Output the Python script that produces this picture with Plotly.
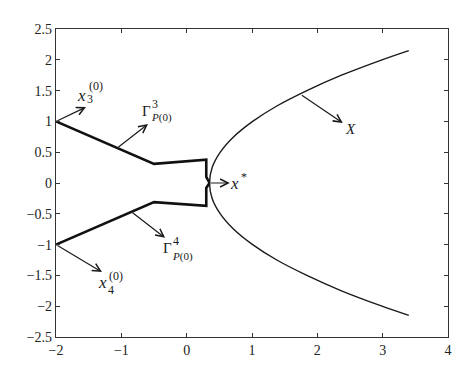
import plotly.graph_objects as go

# Polyline paths
upper_x = [-2.0, -0.5, 0.30, 0.30, 0.35]
upper_y = [1.0, 0.31, 0.38, 0.10, 0.0]
lower_x = [-2.0, -0.5, 0.30, 0.30, 0.35]
lower_y = [-1.0, -0.31, -0.37, -0.08, 0.0]

# Curve X
curve_y = [-2.15, -2.0, -1.75, -1.5, -1.25, -1.0, -0.75, -0.5, -0.25, 0.0,
           0.25, 0.5, 0.75, 1.0, 1.25, 1.5, 1.75, 2.0, 2.15]
curve_x = [3.40, 2.99, 2.37, 1.84, 1.38, 1.01, 0.72, 0.515, 0.39, 0.35,
           0.39, 0.515, 0.72, 1.01, 1.38, 1.84, 2.37, 2.99, 3.40]

x_ticks = [-2, -1, 0, 1, 2, 3, 4]
x_ticktext = ["\u22122", "\u22121", "0", "1", "2", "3", "4"]
y_ticks = [-2.5, -2, -1.5, -1, -0.5, 0, 0.5, 1, 1.5, 2, 2.5]
y_ticktext = ["\u22122.5", "\u22122", "\u22121.5", "\u22121", "\u22120.5", "0",
              "0.5", "1", "1.5", "2", "2.5"]

# Arrows: (start_x, start_y, end_x, end_y)
arrows = [
    (-2.0, 1.0, -1.54, 1.234),      # x3(0)
    (-1.066, 0.565, -0.592, 0.958),  # Gamma3
    (0.35, 0.0, 0.66, 0.0),         # x*
    (1.74, 1.44, 2.39, 0.974),      # X
    (-0.85, -0.463, -0.33, -0.89),  # Gamma4
    (-2.0, -1.0, -1.296, -1.445),   # x4(0)
]

# Text pieces: (x, y, text, size, xanchor)
labels = [
    (-1.61, 1.42, "<i>x</i>", 17, "center"),
    (-1.525, 1.575, "(0)", 12, "left"),
    (-1.556, 1.36, "3", 12, "left"),
    (-0.614, 1.17, "\u0393", 15, "center"),
    (-0.56, 1.28, "3", 12, "left"),
    (-0.576, 1.06, "<i>P</i>(0)", 11, "left"),
    (0.726, 0.0, "<i>x</i>", 17, "center"),
    (0.80, 0.10, "*", 12, "left"),
    (2.51, 0.87, "<i>X</i>", 15, "center"),
    (-0.30, -1.06, "\u0393", 15, "center"),
    (-0.235, -0.94, "4", 12, "left"),
    (-0.255, -1.185, "<i>P</i>(0)", 11, "left"),
    (-1.288, -1.615, "<i>x</i>", 17, "center"),
    (-1.22, -1.51, "(0)", 12, "left"),
    (-1.23, -1.73, "4", 12, "left"),
]

fig = go.Figure()
fig.add_trace(go.Scatter(x=curve_x, y=curve_y, mode="lines",
                         line=dict(color="#1a1a1a", width=1.4, shape="spline"),
                         showlegend=False))
fig.add_trace(go.Scatter(x=upper_x, y=upper_y, mode="lines",
                         line=dict(color="#111111", width=2.6),
                         showlegend=False))
fig.add_trace(go.Scatter(x=lower_x, y=lower_y, mode="lines",
                         line=dict(color="#111111", width=2.6),
                         showlegend=False))

for sx, sy, ex, ey in arrows:
    fig.add_annotation(x=ex, y=ey, ax=sx, ay=sy, xref="x", yref="y",
                       axref="x", ayref="y", showarrow=True, text="",
                       arrowhead=5, arrowsize=1.3, arrowwidth=1.2,
                       arrowcolor="#1a1a1a", standoff=0)

for lx, ly, txt, sz, anc in labels:
    fig.add_annotation(x=lx, y=ly, text=txt, showarrow=False, xref="x", yref="y",
                       xanchor=anc, yanchor="middle",
                       font=dict(family="Liberation Serif", size=sz, color="#1a1a1a"))

axis_common = dict(showgrid=False, zeroline=False, showline=True, linecolor="#333333",
                   linewidth=1.2, mirror="ticks", ticks="inside", ticklen=4,
                   tickcolor="#333333", tickwidth=1,
                   tickfont=dict(family="Liberation Serif", size=14, color="#222222"))

fig.update_xaxes(range=[-2, 4], tickvals=x_ticks, ticktext=x_ticktext, **axis_common)
fig.update_yaxes(range=[-2.5, 2.5], tickvals=y_ticks, ticktext=y_ticktext, **axis_common)

fig.update_layout(width=474, height=377, margin=dict(l=56, r=26, t=29, b=40),
                  plot_bgcolor="white", paper_bgcolor="white")

fig.write_html("out.html")
